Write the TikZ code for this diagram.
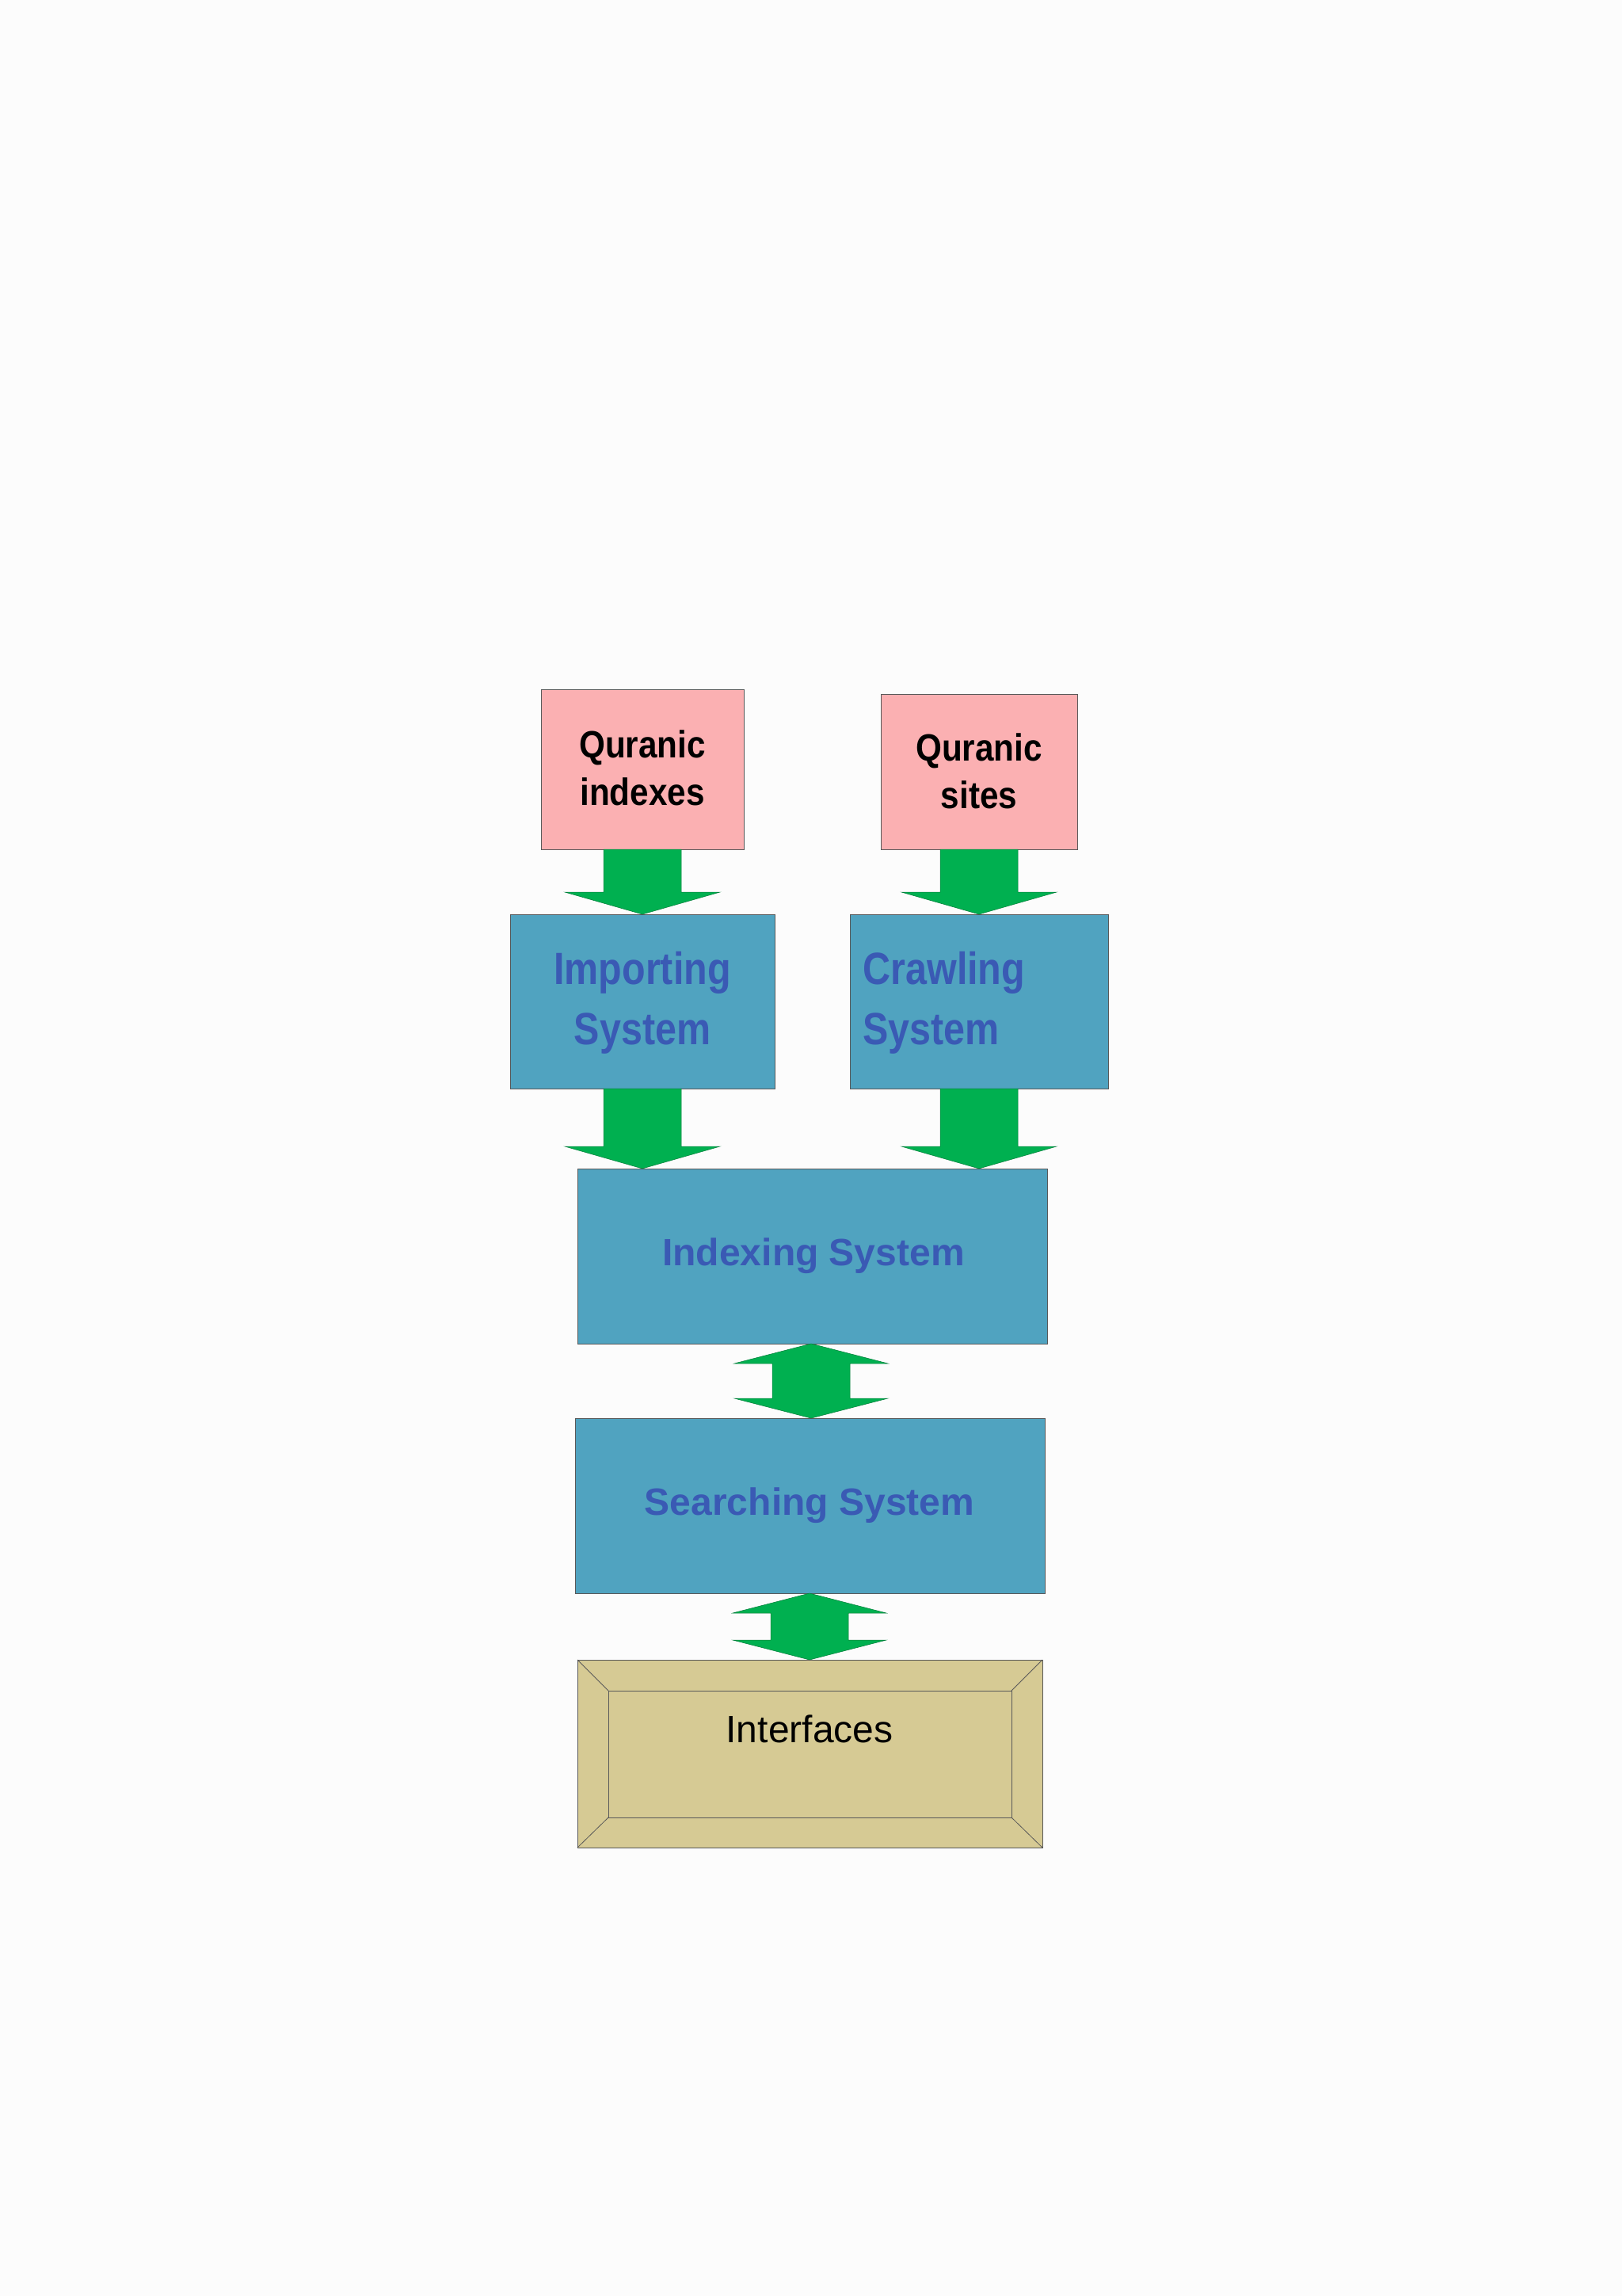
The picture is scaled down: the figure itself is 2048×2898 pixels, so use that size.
\documentclass[tikz,border=0pt]{standalone}
\usepackage{fontspec}
\setmainfont{Liberation Sans}
\newfontfamily\narrowA[FakeStretch=0.88]{Liberation Sans}
\newfontfamily\narrowB[FakeStretch=0.85]{Liberation Sans}
\begin{document}
\begin{tikzpicture}[x=1pt,y=-1pt,
  box/.style={draw=gray!70!black,line width=0.8pt,inner sep=0pt},
  pinkbox/.style={box,fill=pinkc},
  tealbox/.style={box,fill=tealc},
  blk/.style={font=\narrowA\bfseries\fontsize{48}{60}\selectfont,align=center,text=black},
  blu/.style={font=\narrowB\bfseries\fontsize{57}{76}\selectfont,text=bluec},
  blus/.style={font=\bfseries\fontsize{48}{56}\selectfont,text=bluec},
  arr/.style={fill=greenc,draw=greenc!70!black,line width=0.5pt}]
\definecolor{pinkc}{HTML}{FBB0B2}
\definecolor{tealc}{HTML}{50A3C0}
\definecolor{bluec}{HTML}{3A5AB4}
\definecolor{greenc}{HTML}{00B050}
\definecolor{tanc}{HTML}{D6CA94}
\fill[fill=white!99!black] (0,6) rectangle (2048,2904);
\useasboundingbox (0,6) rectangle (2048,2904);
% boxes
\draw[pinkbox] (683,876) rectangle (939,1078);
\draw[pinkbox] (1112,882) rectangle (1360,1078);
\draw[tealbox] (644,1160) rectangle (978,1380);
\draw[tealbox] (1073,1160) rectangle (1399,1380);
\draw[tealbox] (729,1481) rectangle (1322,1702);
\draw[tealbox] (726,1796) rectangle (1319,2017);
% interfaces bevel
\draw[box,fill=tanc] (729,2101) rectangle (1316,2338);
\draw[box] (768,2140) rectangle (1277,2300);
\draw[box] (729,2101) -- (768,2140) (1316,2101) -- (1277,2140)
  (729,2338) -- (768,2300) (1316,2338) -- (1277,2300);
% down arrows
\foreach \cx/\ya/\yb in {811/1078/1160, 1236/1078/1160, 811/1380/1481, 1236/1380/1481}{
  \draw[arr] (\cx-49,\ya) -- (\cx+49,\ya) -- (\cx+49,\yb-28) -- (\cx+98,\yb-28)
    -- (\cx,\yb) -- (\cx-98,\yb-28) -- (\cx-49,\yb-28) -- cycle;}
% double arrows
\foreach \cx/\ya/\yb in {1024/1702/1796, 1022/2017/2101}{
  \draw[arr] (\cx,\ya) -- (\cx+97,\ya+25) -- (\cx+49,\ya+25) -- (\cx+49,\yb-25)
    -- (\cx+97,\yb-25) -- (\cx,\yb) -- (\cx-97,\yb-25) -- (\cx-49,\yb-25)
    -- (\cx-49,\ya+25) -- (\cx-97,\ya+25) -- cycle;}
% texts
\node[blk] (qi) at (811,975) {Quranic\\indexes};
\node[blk] (qs) at (1236,979) {Quranic\\sites};
\node[blu,align=center] (imp) at (811,1272) {Importing\\System};
\node[blu,align=left,anchor=west] (cra) at (1086,1272) {Crawling\\System};
\node[blus] (idx) at (1027,1591) {Indexing System};
\node[blus] (srch) at (1022,1906) {Searching System};
\node[font=\fontsize{48}{56}\selectfont] (int) at (1022,2188) {Interfaces};
\end{tikzpicture}
\end{document}
